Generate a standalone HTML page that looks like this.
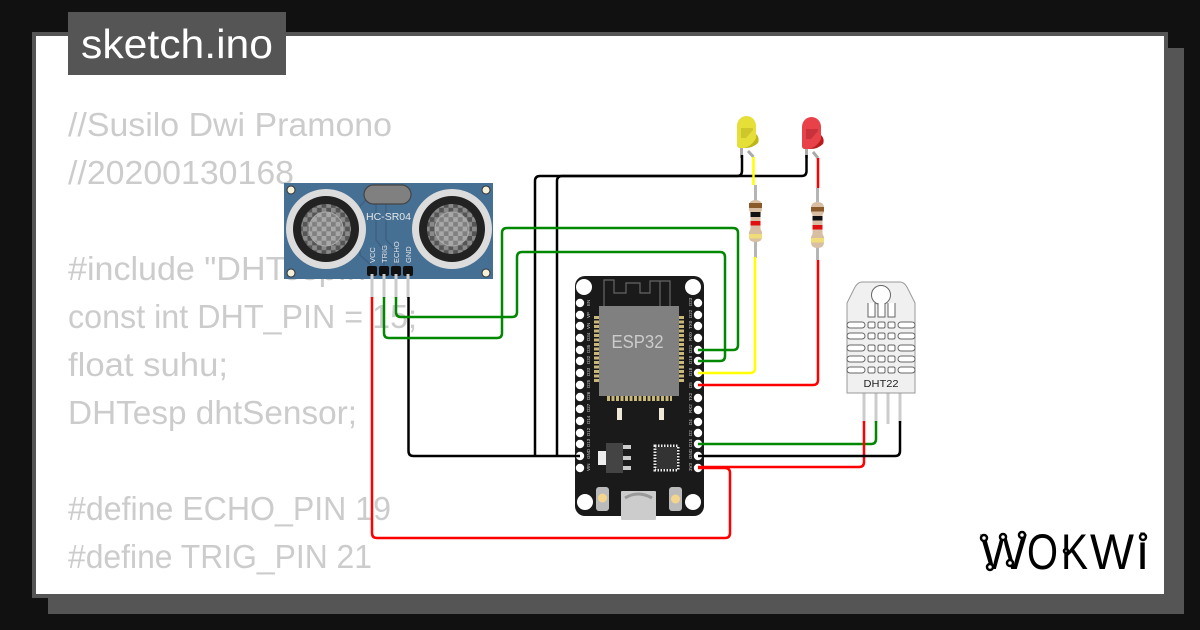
<!DOCTYPE html>
<html><head><meta charset="utf-8"><style>
html,body{margin:0;padding:0;background:#111;width:1200px;height:630px;overflow:hidden}
svg{display:block}
text{font-family:"Liberation Sans",sans-serif}
</style></head><body>
<svg width="1200" height="630" viewBox="0 0 1200 630" xmlns="http://www.w3.org/2000/svg">
<defs>
<pattern id="ck" width="9.400" height="9.400" patternUnits="userSpaceOnUse" patternTransform="translate(2 1)">
<rect width="9.400" height="9.400" fill="#555"/><rect width="4.700" height="4.700" fill="#8a8a8a"/><rect x="4.700" y="4.700" width="4.700" height="4.700" fill="#8a8a8a"/>
</pattern>
<pattern id="ck2" width="9.400" height="9.400" patternUnits="userSpaceOnUse" patternTransform="translate(2 1)">
<rect width="9.400" height="9.400" fill="#808080"/><rect width="4.700" height="4.700" fill="#a8a8a8"/><rect x="4.700" y="4.700" width="4.700" height="4.700" fill="#a8a8a8"/>
</pattern>
</defs>
<rect width="1200" height="630" fill="#111"/>
<rect x="48" y="48" width="1136" height="566" fill="#555"/>
<rect x="32" y="32" width="1136" height="566" fill="#555"/>
<rect x="36" y="36" width="1128" height="558" fill="#fff"/>
<rect x="68" y="12" width="218" height="63" fill="#555"/>
<text x="81" y="58" font-size="41" fill="#fff" textLength="192" lengthAdjust="spacingAndGlyphs">sketch.ino</text>

<g font-size="33" fill="#ccc">
<text x="68" y="136" textLength="324" lengthAdjust="spacingAndGlyphs">//Susilo Dwi Pramono</text>
<text x="68" y="184" textLength="226" lengthAdjust="spacingAndGlyphs">//20200130168</text>
<text x="68" y="280" textLength="310" lengthAdjust="spacingAndGlyphs">#include "DHTesp.h"</text>
<text x="68" y="328" textLength="349" lengthAdjust="spacingAndGlyphs">const int DHT_PIN = 15;</text>
<text x="68" y="376" textLength="160" lengthAdjust="spacingAndGlyphs">float suhu;</text>
<text x="68" y="424" textLength="289" lengthAdjust="spacingAndGlyphs">DHTesp dhtSensor;</text>
<text x="68" y="520" textLength="323" lengthAdjust="spacingAndGlyphs">#define ECHO_PIN 19</text>
<text x="68" y="568" textLength="304" lengthAdjust="spacingAndGlyphs">#define TRIG_PIN 21</text>
</g>

<!-- HC-SR04 -->
<rect x="284" y="183" width="209" height="96" fill="#466f94"/>
<g fill="none" stroke="#3d6182" stroke-width="1.500"><path d="M366 200L360 206V255L372 266M376 204L376 240L384 250V266M386 204L386 240L396 250V266"/></g>
<g fill="#f5f0d8" stroke="#333" stroke-width="1"><circle cx="291" cy="190" r="4"/><circle cx="486" cy="190" r="4"/><circle cx="291" cy="273" r="4"/><circle cx="486" cy="273" r="4"/></g>
<rect x="364" y="185" width="47" height="19" rx="9.500" fill="#808080" stroke="#444" stroke-width="1.200"/>
<text x="388.500" y="220" font-size="10.500" fill="#e6e6e6" text-anchor="middle" textLength="45" lengthAdjust="spacingAndGlyphs">HC-SR04</text>
<g>
<circle cx="326" cy="229" r="40" fill="#dcdcdc"/><circle cx="326" cy="229" r="33" fill="#222"/><circle cx="326" cy="229" r="25" fill="url(#ck)"/><circle cx="326" cy="229" r="17" fill="url(#ck2)" stroke="#aaa" stroke-width="1"/>
<circle cx="452" cy="229" r="40" fill="#dcdcdc"/><circle cx="452" cy="229" r="33" fill="#222"/><circle cx="452" cy="229" r="25" fill="url(#ck)"/><circle cx="452" cy="229" r="17" fill="url(#ck2)" stroke="#aaa" stroke-width="1"/>
</g>
<g font-size="7.500" fill="#e6e6e6">
<text transform="translate(375 263) rotate(-90)">VCC</text>
<text transform="translate(387 263) rotate(-90)">TRIG</text>
<text transform="translate(399 263) rotate(-90)">ECHO</text>
<text transform="translate(411 263) rotate(-90)">GND</text>
</g>
<g fill="#111"><rect x="367" y="266" width="10" height="10" rx="2"/><rect x="379" y="266" width="10" height="10" rx="2"/><rect x="391" y="266" width="10" height="10" rx="2"/><rect x="403" y="266" width="10" height="10" rx="2"/></g>
<g fill="#ccc"><rect x="370.500" y="274" width="3" height="24"/><rect x="382.500" y="274" width="3" height="24"/><rect x="394.500" y="274" width="3" height="24"/><rect x="406.500" y="274" width="3" height="24"/></g>

<!-- ESP32 -->
<rect x="575" y="276" width="129" height="240" rx="10" fill="#1a1a1a"/>
<g fill="#fff"><circle cx="584" cy="287" r="8"/><circle cx="693" cy="287" r="8"/><circle cx="585" cy="502" r="8"/><circle cx="693" cy="502" r="8"/></g>
<path d="M604 306V280H614V293H626V283H640V293H650V281H670V306M660 281V306" fill="none" stroke="#666" stroke-width="1.200"/>
<g fill="#fff">
<circle cx="580" cy="303" r="4.200"/><circle cx="580" cy="315" r="4.200"/><circle cx="580" cy="326" r="4.200"/><circle cx="580" cy="338" r="4.200"/><circle cx="580" cy="350" r="4.200"/><circle cx="580" cy="361" r="4.200"/><circle cx="580" cy="373" r="4.200"/><circle cx="580" cy="385" r="4.200"/><circle cx="580" cy="397" r="4.200"/><circle cx="580" cy="409" r="4.200"/><circle cx="580" cy="421" r="4.200"/><circle cx="580" cy="433" r="4.200"/><circle cx="580" cy="444" r="4.200"/><circle cx="580" cy="456" r="4.200"/><circle cx="580" cy="468" r="4.200"/>
<circle cx="698" cy="303" r="4.200"/><circle cx="698" cy="315" r="4.200"/><circle cx="698" cy="326" r="4.200"/><circle cx="698" cy="338" r="4.200"/><circle cx="698" cy="350" r="4.200"/><circle cx="698" cy="361" r="4.200"/><circle cx="698" cy="373" r="4.200"/><circle cx="698" cy="385" r="4.200"/><circle cx="698" cy="398" r="4.200"/><circle cx="698" cy="410" r="4.200"/><circle cx="698" cy="422" r="4.200"/><circle cx="698" cy="433" r="4.200"/><circle cx="698" cy="444" r="4.200"/><circle cx="698" cy="456" r="4.200"/><circle cx="698" cy="468" r="4.200"/>
</g>
<g font-size="4.500" fill="#ccc">
<text transform="translate(590 306) rotate(-90)">EN</text><text transform="translate(590 318) rotate(-90)">VP</text><text transform="translate(590 329) rotate(-90)">VN</text><text transform="translate(590 341) rotate(-90)">D34</text><text transform="translate(590 353) rotate(-90)">D35</text><text transform="translate(590 364) rotate(-90)">D32</text><text transform="translate(590 376) rotate(-90)">D33</text><text transform="translate(590 388) rotate(-90)">D25</text><text transform="translate(590 400) rotate(-90)">D26</text><text transform="translate(590 412) rotate(-90)">D27</text><text transform="translate(590 424) rotate(-90)">D14</text><text transform="translate(590 436) rotate(-90)">D12</text><text transform="translate(590 447) rotate(-90)">D13</text><text transform="translate(590 459) rotate(-90)">GND</text><text transform="translate(590 471) rotate(-90)">VIN</text>
<text transform="translate(692 306) rotate(-90)">D23</text><text transform="translate(692 318) rotate(-90)">D22</text><text transform="translate(692 329) rotate(-90)">TX0</text><text transform="translate(692 341) rotate(-90)">RX0</text><text transform="translate(692 353) rotate(-90)">D21</text><text transform="translate(692 364) rotate(-90)">D19</text><text transform="translate(692 376) rotate(-90)">D18</text><text transform="translate(692 388) rotate(-90)">D5</text><text transform="translate(692 401) rotate(-90)">TX2</text><text transform="translate(692 413) rotate(-90)">RX2</text><text transform="translate(692 425) rotate(-90)">D4</text><text transform="translate(692 436) rotate(-90)">D2</text><text transform="translate(692 447) rotate(-90)">D15</text><text transform="translate(692 459) rotate(-90)">GND</text><text transform="translate(692 471) rotate(-90)">3V3</text>
</g>
<g fill="none" stroke="#c9b878" stroke-width="5" stroke-dasharray="3 1.500">
<path d="M596.500 316V382"/><path d="M681.500 316V382"/><path d="M607 398.500H672"/>
</g>
<rect x="599" y="306" width="80" height="90" fill="#808080"/>
<text x="637.500" y="348" font-size="18" fill="#ccc" text-anchor="middle" textLength="52" lengthAdjust="spacingAndGlyphs">ESP32</text>
<rect x="617" y="408" width="5" height="12" fill="#eee8d8"/><rect x="659" y="408" width="5" height="12" fill="#eee8d8"/>
<rect x="598" y="451" width="9" height="14" fill="#eee"/>
<g fill="#ccc"><rect x="623" y="445" width="8" height="4"/><rect x="623" y="456" width="8" height="4"/><rect x="623" y="466" width="8" height="4"/></g>
<rect x="606" y="443" width="17" height="30" fill="#444"/>
<rect x="655" y="446" width="23" height="24" fill="none" stroke="#eee" stroke-width="3" stroke-dasharray="1.500 1.500"/>
<rect x="657" y="447" width="20" height="22" fill="#333"/>
<rect x="596" y="487" width="13" height="24" rx="3" fill="#bbb"/><circle cx="602.500" cy="498" r="4.500" fill="#f4d58d"/>
<rect x="669" y="487" width="13" height="24" rx="3" fill="#bbb"/><circle cx="675.500" cy="499" r="4.500" fill="#f4d58d"/>
<rect x="621" y="491" width="35" height="29" rx="1" fill="#ccc"/>
<path d="M625 498Q638 490 652 498" fill="none" stroke="#999" stroke-width="3"/>

<!-- LEDs -->
<g fill="none" stroke="#aaa" stroke-width="3"><path d="M741.500 148V158M748 151L753.500 157"/><path d="M806.500 149V158M813 152L818 158"/></g>
<g>
<path d="M737 126A10 10 0 0 1 756 126V134Q760 138 758 143Q753 148 745 148H740Q737 148 737 144Z" fill="#bdb71e"/>
<path d="M737 126A9.500 10 0 0 1 756 126V138Q752 146 744 148H740Q737 148 737 144Z" fill="#e6df38"/>
<path d="M741 128H753V138H741Z" fill="#cdc72c"/><path d="M746 138L753 130V138Z" fill="#e6df38"/>
</g>
<g transform="translate(65 1)">
<path d="M737 126A10 10 0 0 1 756 126V134Q760 138 758 143Q753 148 745 148H740Q737 148 737 144Z" fill="#b81d1d"/>
<path d="M737 126A9.500 10 0 0 1 756 126V138Q752 146 744 148H740Q737 148 737 144Z" fill="#e8414a"/>
<path d="M741 128H753V138H741Z" fill="#c9323a"/><path d="M746 138L753 130V138Z" fill="#e8414a"/>
</g>

<!-- Resistors -->
<g fill="none" stroke="#b5b5b5" stroke-width="3"><path d="M755.500 185V258"/><path d="M817.500 188V260"/></g>
<path d="M749 206Q749 200 755.500 200T762 206V210L760.500 213V229L762 232V237Q762 242 755.500 242T749 237V232L750.500 229V213L749 210Z" fill="#d8bfa4"/>
<rect x="749" y="203" width="13" height="5" fill="#8b5a2b"/><rect x="750.500" y="212" width="10" height="5" fill="#111"/><rect x="750.500" y="221" width="10" height="4.500" fill="#e01010"/><rect x="749" y="234" width="13" height="4.500" fill="#f0dc78"/>
<path d="M811 208Q811 202 817.500 202T824 208V212L822.500 215V234L824 237V242Q824 248 817.500 248T811 242V237L812.500 234V215L811 212Z" fill="#d8bfa4"/>
<rect x="811" y="207" width="13" height="4.500" fill="#8b5a2b"/><rect x="812.500" y="216" width="10" height="4.500" fill="#111"/><rect x="812.500" y="225" width="10" height="4.500" fill="#e01010"/><rect x="811" y="238" width="13" height="4.500" fill="#f0dc78"/>

<!-- DHT22 -->
<g fill="#ccc"><rect x="862.500" y="393" width="3" height="30"/><rect x="874.500" y="393" width="3" height="30"/><rect x="886.500" y="393" width="3" height="31"/><rect x="898.500" y="393" width="3" height="30"/></g>
<path d="M847 303L855 287Q858 282 862 282H900Q904 282 907 287L915 303V393H847Z" fill="#f0f0f0" stroke="#999"/>
<circle cx="881" cy="295" r="9.500" fill="#fff" stroke="#666"/>
<path d="M868 303V317H875V303M878 303V317H885V303M888 303V317H895V303" fill="#fff" stroke="#666"/>
<g fill="#fff" stroke="#666" stroke-width="1">
<rect x="847" y="322" width="18" height="6" rx="3"/><rect x="847" y="333" width="18" height="6" rx="3"/><rect x="847" y="345" width="18" height="6" rx="3"/><rect x="847" y="356" width="18" height="6" rx="3"/><rect x="847" y="367" width="18" height="6" rx="3"/>
<rect x="898" y="322" width="17" height="6" rx="3"/><rect x="898" y="333" width="17" height="6" rx="3"/><rect x="898" y="345" width="17" height="6" rx="3"/><rect x="898" y="356" width="17" height="6" rx="3"/><rect x="898" y="367" width="17" height="6" rx="3"/>
<rect x="868" y="322" width="7" height="6" rx="1.500"/><rect x="878" y="322" width="7" height="6" rx="1.500"/><rect x="888" y="322" width="7" height="6" rx="1.500"/>
<rect x="868" y="333" width="7" height="6" rx="1.500"/><rect x="878" y="333" width="7" height="6" rx="1.500"/><rect x="888" y="333" width="7" height="6" rx="1.500"/>
<rect x="868" y="345" width="7" height="6" rx="1.500"/><rect x="878" y="345" width="7" height="6" rx="1.500"/><rect x="888" y="345" width="7" height="6" rx="1.500"/>
<rect x="868" y="356" width="7" height="6" rx="1.500"/><rect x="878" y="356" width="7" height="6" rx="1.500"/><rect x="888" y="356" width="7" height="6" rx="1.500"/>
<rect x="868" y="367" width="7" height="6" rx="1.500"/><rect x="878" y="367" width="7" height="6" rx="1.500"/><rect x="888" y="367" width="7" height="6" rx="1.500"/>
</g>
<text x="881" y="387" font-size="10.500" fill="#222" text-anchor="middle" textLength="35" lengthAdjust="spacingAndGlyphs">DHT22</text>

<!-- Wires -->
<g fill="none" stroke-width="2.500" stroke-linejoin="round">
<path stroke="#000" d="M408.500 297V451Q408.500 456 413.500 456H580"/>
<path stroke="#000" d="M742 155V171Q742 176 737 176H540Q535 176 535 181V456"/>
<path stroke="#000" d="M806.500 155V171Q806.500 176 801.500 176H562Q557 176 557 181V456"/>
<path stroke="#f00" d="M372 297V533Q372 538 377 538H725Q730 538 730 533V473Q730 468 725 468H698"/>
<path stroke="#080" d="M384 297V333Q384 338 389 338H497Q502 338 502 333V233Q502 228 507 228H733Q738 228 738 233V345Q738 350 733 350H698"/>
<path stroke="#080" d="M396 297V312Q396 317 401 317H512Q517 317 517 312V257Q517 252 522 252H720Q725 252 725 257V356Q725 361 720 361H698"/>
<path stroke="#ff0" d="M753.500 157V185"/>
<path stroke="#ff0" d="M755 257V368Q755 373 750 373H698"/>
<path stroke="#f00" d="M818 158V188"/>
<path stroke="#f00" d="M818 260V380Q818 385 813 385H698"/>
<path stroke="#080" d="M876 421V439Q876 444 871 444H698"/>
<path stroke="#f00" d="M864 421V462Q864 467 859 467H698"/>
<path stroke="#000" d="M900 421V451Q900 456 895 456H698"/>
</g>

<!-- Wokwi logo -->
<text y="569" font-size="50" fill="#000"><tspan x="980" textLength="47" lengthAdjust="spacingAndGlyphs">W</tspan><tspan x="1027" textLength="31" lengthAdjust="spacingAndGlyphs">O</tspan><tspan x="1061" textLength="27" lengthAdjust="spacingAndGlyphs">K</tspan><tspan x="1090" textLength="44" lengthAdjust="spacingAndGlyphs">W</tspan><tspan x="1137">i</tspan></text>
<g fill="#fff" stroke="#000" stroke-width="2.500"><circle cx="984" cy="538" r="3"/><circle cx="1003" cy="537" r="3"/><circle cx="1022" cy="535" r="3"/><circle cx="990" cy="567" r="3"/><circle cx="1010" cy="563" r="3"/><circle cx="1066" cy="551" r="2"/><circle cx="1143" cy="537" r="3"/></g>
</svg>
</body></html>
